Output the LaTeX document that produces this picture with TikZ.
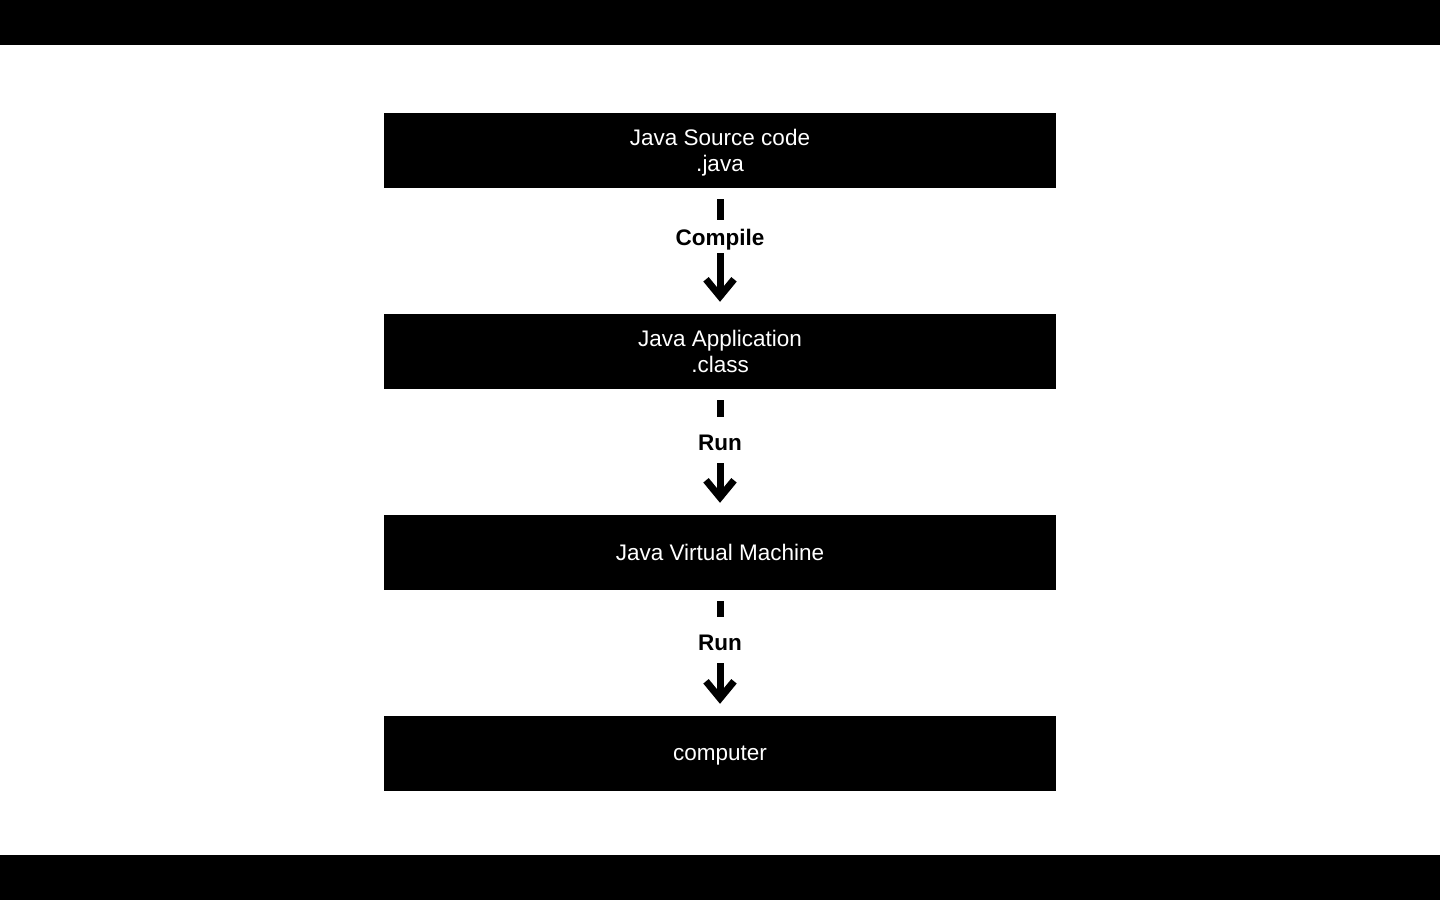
\documentclass[tikz,border=0pt]{standalone}
\usepackage{fontspec}
\setmainfont{Liberation Sans}
\usetikzlibrary{arrows.meta,positioning}

\begin{document}
\begin{tikzpicture}[x=1pt, y=-1pt,
    stage/.style={fill=black, text=white, minimum width=672pt, minimum height=75pt, inner sep=0pt, align=center, text depth=0pt, font=\fontsize{22.5}{26}\selectfont},
    verb/.style={inner sep=0pt, anchor=base, font=\bfseries\fontsize{22.5}{26}\selectfont},
    flow/.style={line width=7pt, shorten <=11pt},
    flowtip/.style={line width=7pt, shorten >=12pt, -{Straight Barb[length=17pt,width=28pt]}}]
  \useasboundingbox (0,0) rectangle (1440,900);
  \fill (0,0) rectangle (1440,45);
  \fill (0,855) rectangle (1440,900);

  \node[stage] (source) at (720,150.5) {Java Source code\\.java};
  \node[stage] (app) at (720,351.5) {Java Application\\.class};
  \node[stage] (jvm) at (720,552.5) {Java Virtual Machine};
  \node[stage] (computer) at (720,753.5) {computer};

  \node[verb, text height=25pt, text depth=8pt] (compile) at (720,245) {Compile};
  \node[verb, text height=33pt, text depth=13pt] (runjvm) at (720,450) {Run};
  \node[verb, text height=33pt, text depth=13pt] (runpc) at (720,650) {Run};

  \draw[flow] (source) -- (compile);
  \draw[flowtip] (compile) -- (app);
  \draw[flow] (app) -- (runjvm);
  \draw[flowtip] (runjvm) -- (jvm);
  \draw[flow] (jvm) -- (runpc);
  \draw[flowtip] (runpc) -- (computer);
\end{tikzpicture}
\end{document}
